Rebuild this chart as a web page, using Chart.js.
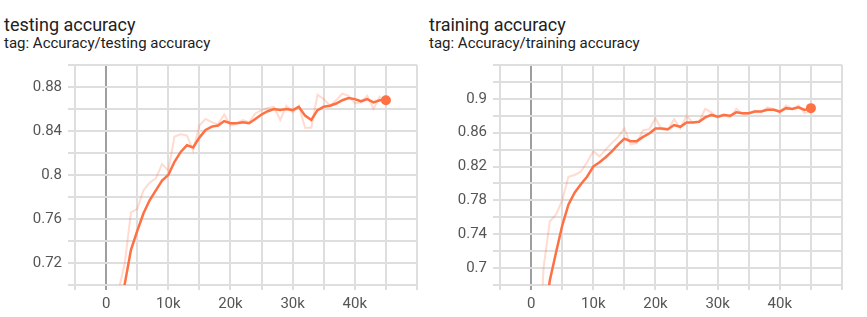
<!DOCTYPE html>
<html>
<head>
<meta charset="utf-8">
<script src="https://cdn.jsdelivr.net/npm/chart.js@4"></script>
<style>
  html, body { margin: 0; padding: 0; background: #fff; }
  body { width: 867px; height: 317px; position: relative; overflow: hidden; font-family: Roboto, sans-serif; color: #212121; }
  .title { position: absolute; font-size: 18px; line-height: 18px; white-space: nowrap; }
  .sub { position: absolute; font-size: 15px; line-height: 15px; white-space: nowrap; }
  canvas { position: absolute; }
</style>
</head>
<body>
<div class="title" style="left:4px;top:16px">testing accuracy</div>
<div class="sub" style="left:4px;top:36px">tag: Accuracy/testing accuracy</div>
<div class="title" style="left:429px;top:16px">training accuracy</div>
<div class="sub" style="left:429px;top:36px">tag: Accuracy/training accuracy</div>
<canvas id="testChart" width="425" height="267" style="left:0;top:50px"></canvas>
<canvas id="trainChart" width="442" height="267" style="left:425px;top:50px"></canvas>
<script>
// steps (x) shared by both runs
const steps = [1000, 2000, 3000, 4000, 5000, 6000, 7000, 8000, 9000, 10000,
  11000, 12000, 13000, 14000, 15000, 16000, 17000, 18000, 19000, 20000,
  21000, 22000, 23000, 24000, 25000, 26000, 27000, 28000, 29000, 30000,
  31000, 32000, 33000, 34000, 35000, 36000, 37000, 38000, 39000, 40000,
  41000, 42000, 43000, 44000, 45000];

const testRaw = [0.64, 0.695, 0.72, 0.766, 0.769, 0.786, 0.793, 0.797, 0.81, 0.804,
  0.835, 0.837, 0.836, 0.822, 0.845, 0.851, 0.848, 0.846, 0.855, 0.845,
  0.847, 0.85, 0.848, 0.856, 0.859, 0.861, 0.862, 0.85, 0.863, 0.857,
  0.863, 0.843, 0.843, 0.873, 0.869, 0.863, 0.868, 0.874, 0.872, 0.865,
  0.866, 0.872, 0.86, 0.871, 0.866];
const testSmooth = [0.63, 0.67, 0.701, 0.732, 0.749, 0.765, 0.777, 0.786, 0.795, 0.8,
  0.812, 0.821, 0.827, 0.825, 0.834, 0.841, 0.844, 0.845, 0.849, 0.847,
  0.847, 0.848, 0.847, 0.851, 0.855, 0.858, 0.86, 0.859, 0.86, 0.859,
  0.862, 0.854, 0.85, 0.859, 0.862, 0.863, 0.865, 0.868, 0.87, 0.869,
  0.867, 0.869, 0.866, 0.868, 0.868];

const trainRaw = [0.55, 0.70, 0.755, 0.763, 0.78, 0.808, 0.81, 0.814, 0.825, 0.838,
  0.832, 0.84, 0.848, 0.855, 0.865, 0.846, 0.848, 0.863, 0.864, 0.877,
  0.864, 0.863, 0.876, 0.865, 0.88, 0.872, 0.873, 0.888, 0.884, 0.878,
  0.882, 0.878, 0.888, 0.882, 0.882, 0.886, 0.884, 0.89, 0.888, 0.884,
  0.892, 0.888, 0.892, 0.883, 0.886];
const trainSmooth = [0.56, 0.63, 0.685, 0.718, 0.75, 0.775, 0.789, 0.799, 0.808, 0.82,
  0.825, 0.831, 0.838, 0.846, 0.853, 0.85, 0.85, 0.855, 0.859, 0.865,
  0.865, 0.864, 0.869, 0.867, 0.872, 0.872, 0.873, 0.878, 0.881, 0.879,
  0.881, 0.88, 0.884, 0.883, 0.883, 0.885, 0.885, 0.887, 0.887, 0.885,
  0.889, 0.888, 0.89, 0.887, 0.889];

const ORANGE = "#ff7043";
const GRID = "#dedede";

Chart.defaults.font.family = "Roboto, sans-serif";
Chart.defaults.font.size = 15;
Chart.defaults.color = "#555";

function points(ys) {
  return steps.map((s, i) => ({ x: s, y: ys[i] }));
}

function makeChart(canvas, raw, smooth, yMin, yMax, labelMod, padRight) {
  return new Chart(canvas, {
    type: "line",
    data: {
      datasets: [
        {
          data: points(smooth),
          borderColor: ORANGE,
          backgroundColor: ORANGE,
          borderWidth: 2.5,
          pointRadius: (ctx) => (ctx.dataIndex === smooth.length - 1 ? 5 : 0),
          pointBorderWidth: 0,
          tension: 0,
          clip: 0,
        },
        {
          data: points(raw),
          borderColor: "rgba(255,112,67,0.25)",
          borderWidth: 2,
          pointRadius: 0,
          tension: 0,
          clip: 0,
        },
      ],
    },
    options: {
      responsive: false,
      animation: false,
      layout: { padding: { top: 14, right: padRight, left: 0, bottom: 0 } },
      plugins: { legend: { display: false }, tooltip: { enabled: false } },
      scales: {
        x: {
          type: "linear",
          min: -5000,
          max: 50000,
          afterFit: (s) => { s.height = 32; },
          ticks: {
            stepSize: 5000,
            autoSkip: false,
            maxRotation: 0,
            padding: 5,
            callback: (v) => (v % 10000 === 0 && v < 50000 ? (v === 0 ? "0" : v / 1000 + "k") : ""),
          },
          grid: {
            color: (ctx) => (ctx.tick && ctx.tick.value === 0 ? "#9e9e9e" : GRID),
            lineWidth: 2,
            tickLength: 5,
          },
          border: { color: GRID, width: 2 },
        },
        y: {
          min: yMin,
          max: yMax,
          afterFit: (s) => { s.width = 75; },
          ticks: {
            stepSize: 0.02,
            autoSkip: false,
            padding: 6,
            callback: (v) => {
              const c = Math.round(v * 100);
              if (c % 4 !== labelMod || v > yMax - 0.005) return "";
              return String(c / 100);
            },
          },
          grid: { color: GRID, lineWidth: 2, tickLength: 7 },
          border: { color: GRID, width: 2 },
        },
      },
    },
  });
}

makeChart(document.getElementById("testChart"), testRaw, testSmooth, 0.7, 0.9, 0, 8);
makeChart(document.getElementById("trainChart"), trainRaw, trainSmooth, 0.68, 0.94, 2, 25);
</script>
</body>
</html>
